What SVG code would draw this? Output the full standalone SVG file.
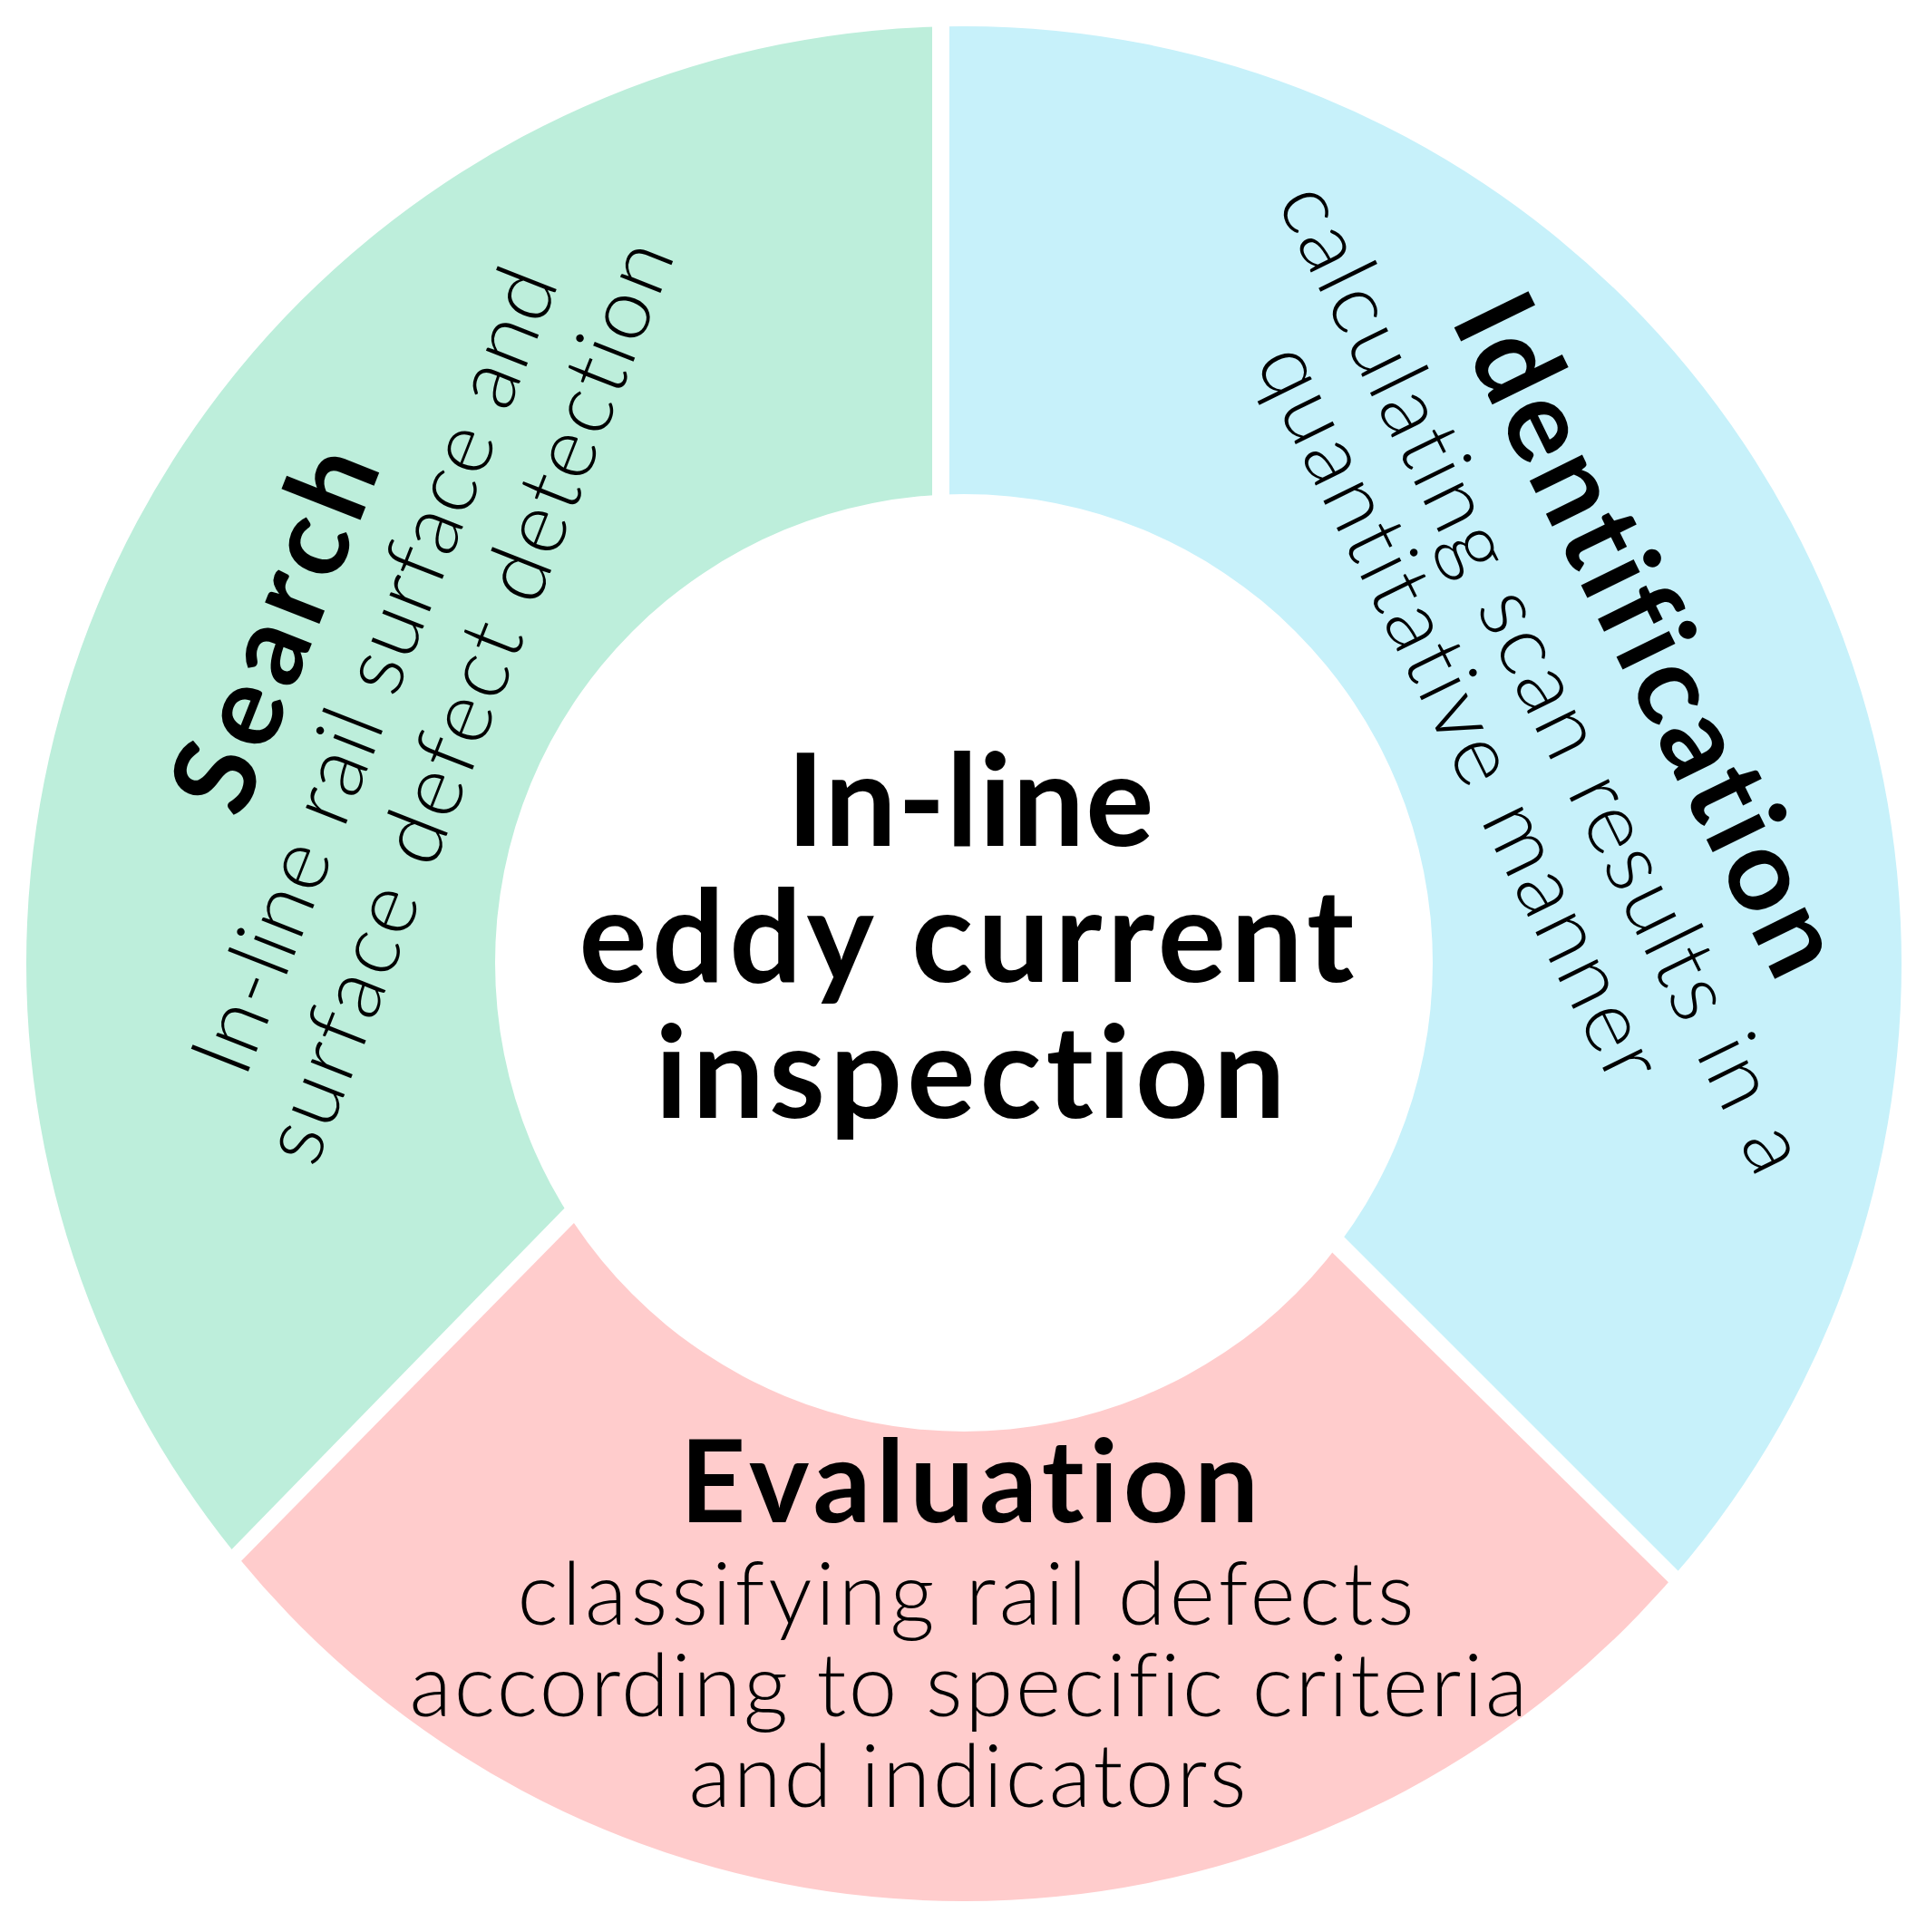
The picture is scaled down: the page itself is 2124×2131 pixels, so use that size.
<svg xmlns="http://www.w3.org/2000/svg" width="2124" height="2131" viewBox="0 0 2124 2131">
  <defs>
    <clipPath id="ring">
      <path clip-rule="evenodd" d="M29,1063 a1034,1034 0 1,0 2068,0 a1034,1034 0 1,0 -2068,0 Z M546,1062 a517,517 0 1,0 1034,0 a517,517 0 1,0 -1034,0 Z"/>
    </clipPath>
    <style>
      .t{font-family:Lato,"Open Sans","DejaVu Sans",sans-serif;fill:#000;text-anchor:middle;font-variant-ligatures:none;font-feature-settings:"liga" 0,"clig" 0,"dlig" 0,"calt" 0}
      .b{font-weight:700}
      .l{font-weight:300}
      .ctr{font-size:141px}
      .ttl{font-size:126px}
      .dsc{font-size:96px}
    </style>
  </defs>
  <rect width="2124" height="2131" fill="#ffffff"/>

  <g id="search">
    <polygon clip-path="url(#ring)" fill="#bdeedb" points="-50,-50 1028,-50 1028,917 -50,2022"/>
    <g transform="translate(443.5,751.5) rotate(-68.5)">
      <text class="t b ttl" x="2" y="-108" textLength="420">Search</text>
      <text class="t l dsc" x="0" y="0" textLength="945">In-line rail surface and</text>
      <text class="t l dsc" x="6" y="108" textLength="1084">surface defect detection</text>
    </g>
  </g>

  <g id="identification">
    <polygon clip-path="url(#ring)" fill="#c7f1fa" points="1047,-50 2174,-50 2174,2056 1047,929"/>
    <g transform="translate(1678.5,773.5) rotate(63.8)">
      <text class="t b ttl" x="-4" y="-115" textLength="818">Identification</text>
      <text class="t l dsc" x="-13" y="0" textLength="1203">calculating scan results in a</text>
      <text class="t l dsc" x="-19" y="99" textLength="894">quantitative manner</text>
    </g>
  </g>

  <g id="evaluation">
    <polygon clip-path="url(#ring)" fill="#ffcccc" points="1027.5,948 -50,2043 -50,2200 2174,2200 2174,2073"/>
    <text class="t b ttl" x="1069" y="1679" textLength="638">Evaluation</text>
    <text class="t l dsc" x="1065" y="1792" textLength="989">classifying rail defects</text>
    <text class="t l dsc" x="1068" y="1893" textLength="1233">according to specific criteria</text>
    <text class="t l dsc" x="1067" y="1993" textLength="615">and indicators</text>
  </g>

  <g id="center">
    <text class="t b ctr" x="1070" y="933" textLength="405">In-line</text>
    <text class="t b ctr" x="1066" y="1083" textLength="855">eddy current</text>
    <text class="t b ctr" x="1070" y="1233" textLength="695">inspection</text>
  </g>

  <g id="connectors"/>
</svg>
